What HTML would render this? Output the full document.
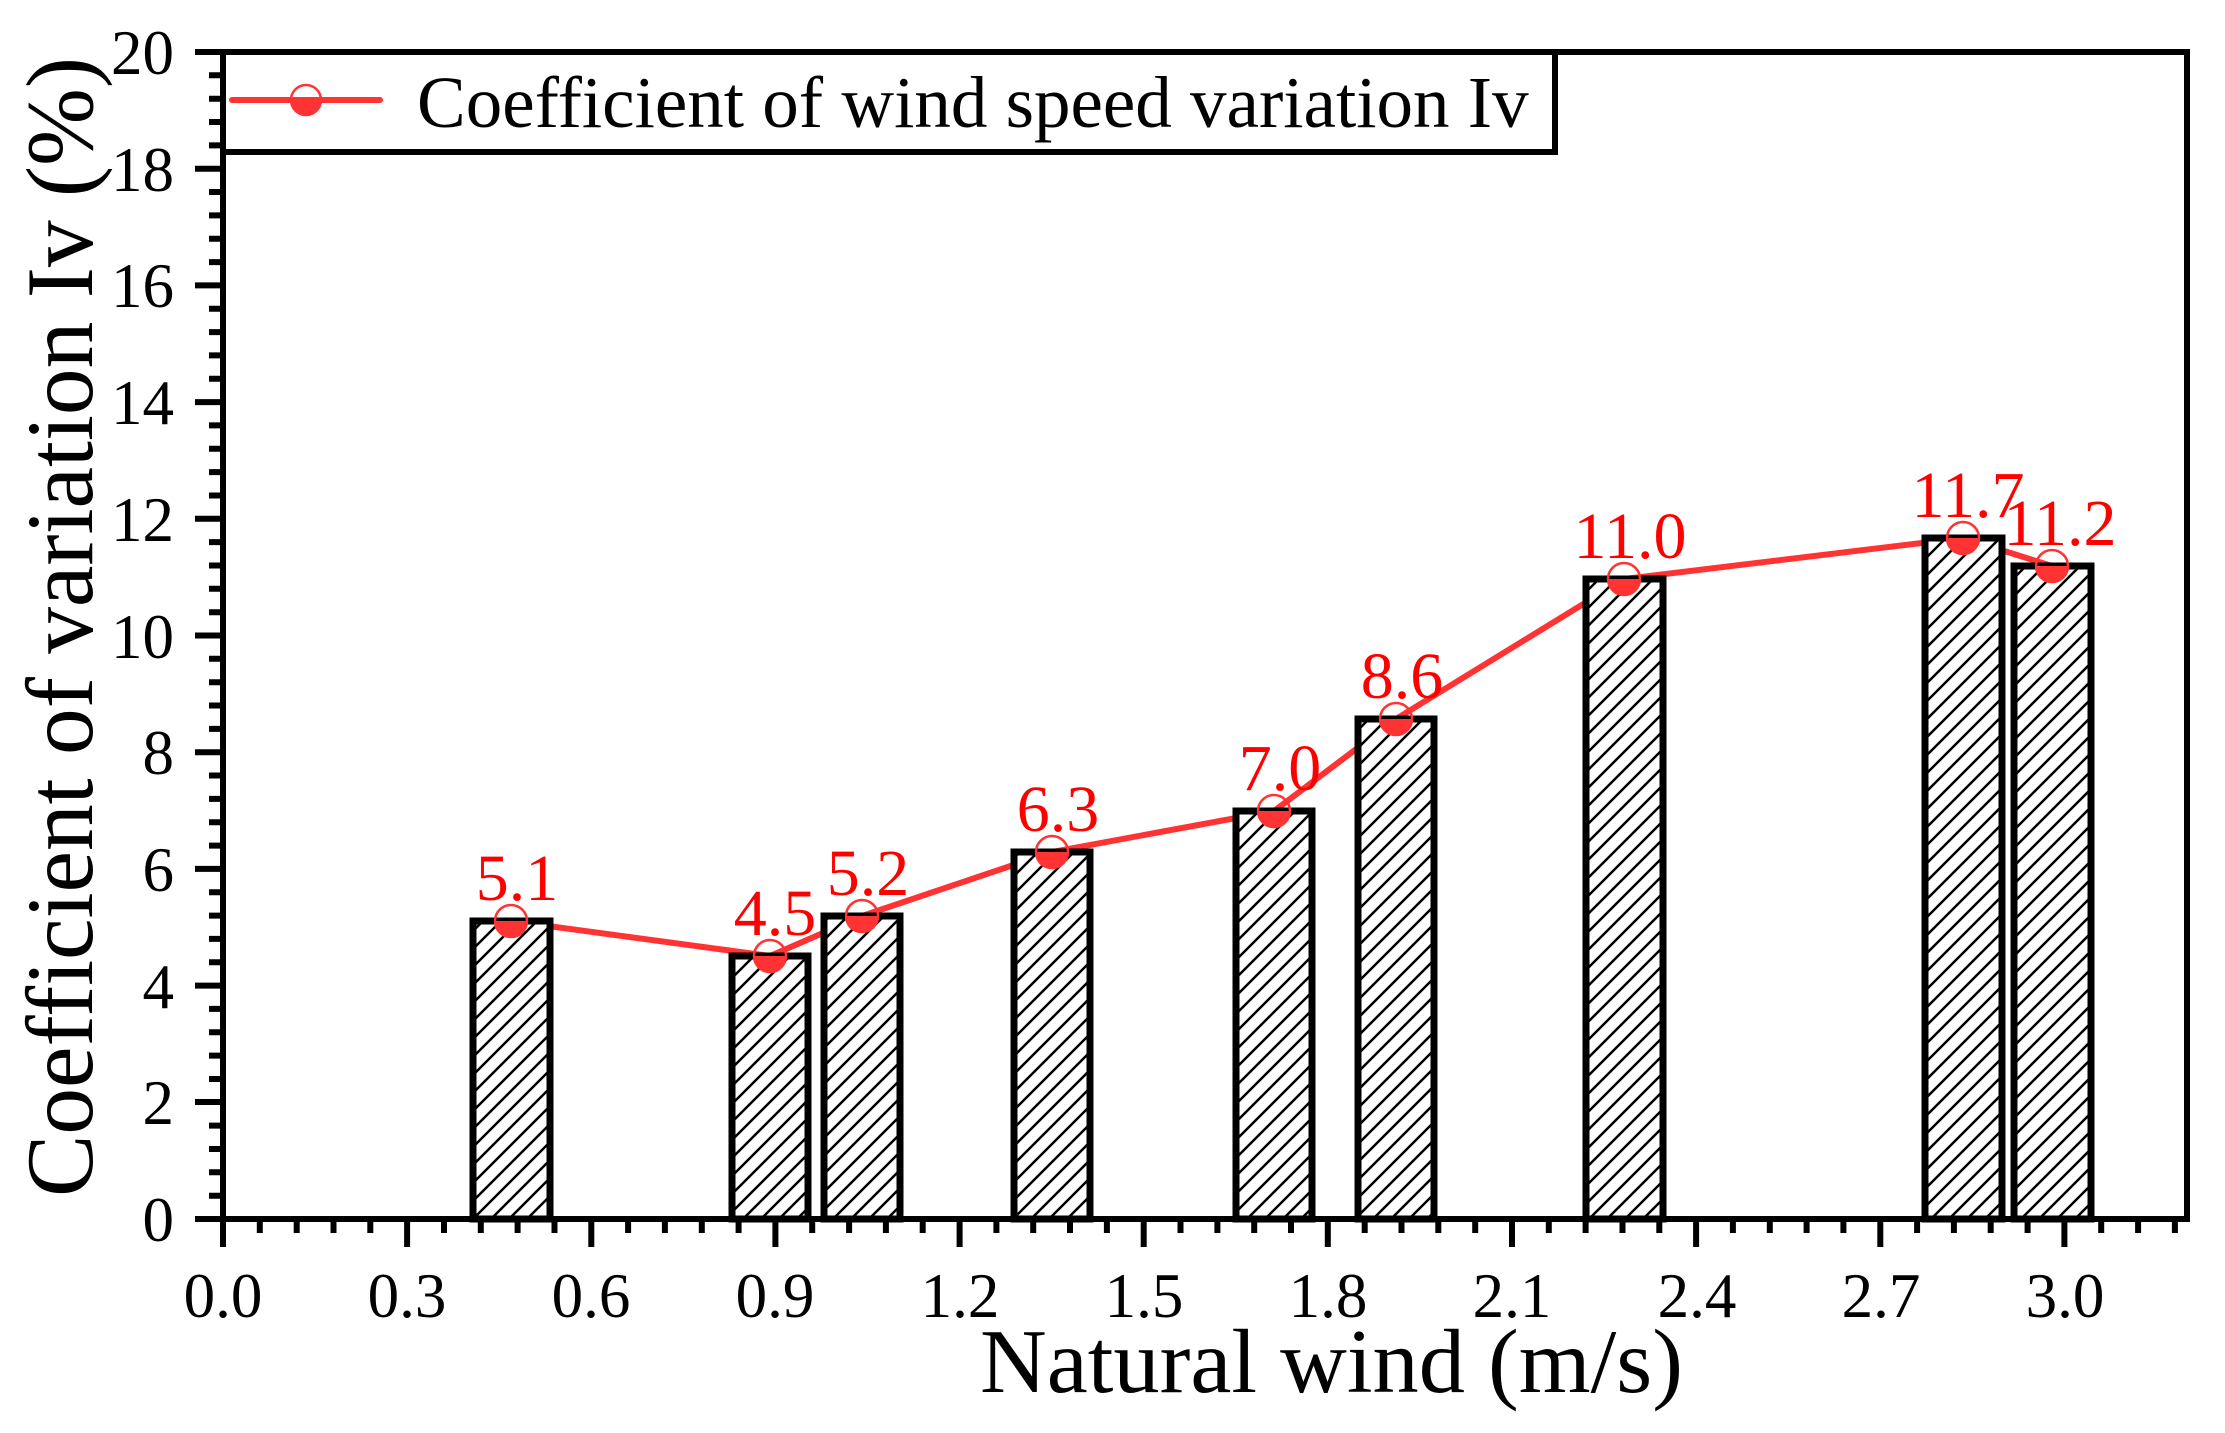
<!DOCTYPE html>
<html><head><meta charset="utf-8"><style>html,body{margin:0;padding:0;background:#fff}svg{display:block}</style></head>
<body>
<svg xmlns="http://www.w3.org/2000/svg" width="2225" height="1433" viewBox="0 0 2225 1433" font-family="'Liberation Serif', serif">
<defs>
<pattern id="h" patternUnits="userSpaceOnUse" width="18" height="18">
<rect width="18" height="18" fill="#fff"/>
<path d="M-4,22 L22,-4 M-4,4 L4,-4 M14,22 L22,14" stroke="#000" stroke-width="2.5"/>
</pattern>
</defs>
<rect width="2225" height="1433" fill="#fff"/>
<polyline fill="none" stroke="#ff3333" stroke-width="6" points="511,921 770,956 862,916 1052,852 1274,811 1396,719 1624,579 1963,538 2052,566"/>
<g stroke="#000" stroke-width="7" fill="url(#h)">
<rect x="473" y="921" width="77" height="298"/>
<rect x="732" y="956" width="76" height="263"/>
<rect x="824" y="916" width="76" height="303"/>
<rect x="1014" y="852" width="76" height="367"/>
<rect x="1236" y="811" width="76" height="408"/>
<rect x="1358" y="719" width="76" height="500"/>
<rect x="1586" y="579" width="77" height="640"/>
<rect x="1925" y="538" width="77" height="681"/>
<rect x="2014" y="566" width="77" height="653"/>
</g>
<g id="markers">
<g transform="translate(511,921)"><path d="M-16,0 A16,16 0 0 0 16,0 Z" fill="#ff3333"/><circle r="16" fill="none" stroke="#ff3333" stroke-width="2.5"/></g>
<g transform="translate(770,956)"><path d="M-16,0 A16,16 0 0 0 16,0 Z" fill="#ff3333"/><circle r="16" fill="none" stroke="#ff3333" stroke-width="2.5"/></g>
<g transform="translate(862,916)"><path d="M-16,0 A16,16 0 0 0 16,0 Z" fill="#ff3333"/><circle r="16" fill="none" stroke="#ff3333" stroke-width="2.5"/></g>
<g transform="translate(1052,852)"><path d="M-16,0 A16,16 0 0 0 16,0 Z" fill="#ff3333"/><circle r="16" fill="none" stroke="#ff3333" stroke-width="2.5"/></g>
<g transform="translate(1274,811)"><path d="M-16,0 A16,16 0 0 0 16,0 Z" fill="#ff3333"/><circle r="16" fill="none" stroke="#ff3333" stroke-width="2.5"/></g>
<g transform="translate(1396,719)"><path d="M-16,0 A16,16 0 0 0 16,0 Z" fill="#ff3333"/><circle r="16" fill="none" stroke="#ff3333" stroke-width="2.5"/></g>
<g transform="translate(1624,579)"><path d="M-16,0 A16,16 0 0 0 16,0 Z" fill="#ff3333"/><circle r="16" fill="none" stroke="#ff3333" stroke-width="2.5"/></g>
<g transform="translate(1963,538)"><path d="M-16,0 A16,16 0 0 0 16,0 Z" fill="#ff3333"/><circle r="16" fill="none" stroke="#ff3333" stroke-width="2.5"/></g>
<g transform="translate(2052,566)"><path d="M-16,0 A16,16 0 0 0 16,0 Z" fill="#ff3333"/><circle r="16" fill="none" stroke="#ff3333" stroke-width="2.5"/></g>
</g>
<g fill="#ff0000" font-size="66" text-anchor="middle">
<text x="517" y="900">5.1</text>
<text x="775" y="935">4.5</text>
<text x="868" y="895">5.2</text>
<text x="1058" y="831">6.3</text>
<text x="1280" y="790">7.0</text>
<text x="1402" y="698">8.6</text>
<text x="1630" y="558">11.0</text>
<text x="1968" y="517">11.7</text>
<text x="2060" y="545">11.2</text>
</g>
<rect x="223" y="52" width="1964" height="1167" fill="none" stroke="#000" stroke-width="6"/>
<rect x="223" y="52" width="1332" height="100" fill="#fff" stroke="#000" stroke-width="6"/>
<line x1="232" y1="100" x2="380" y2="100" stroke="#ff3333" stroke-width="6" stroke-linecap="round"/>
<g transform="translate(306,100)"><path d="M-15,0 A15,15 0 0 0 15,0 Z" fill="#ff3333"/><circle r="15" fill="none" stroke="#ff3333" stroke-width="2.5"/></g>
<text x="417" y="127" font-size="73">Coefficient of wind speed variation Iv</text>
<g stroke="#000" stroke-width="6">
<path d="M223,1219h-28M223,1102h-28M223,985.6h-28M223,868.9h-28M223,752.2h-28M223,635.5h-28M223,518.8h-28M223,402.1h-28M223,285.4h-28M223,168.7h-28M223,52h-28"/>
<path d="M223,1195.7h-14M223,1172.3h-14M223,1149h-14M223,1125.6h-14M223,1079h-14M223,1055.6h-14M223,1032.3h-14M223,1008.9h-14M223,962.3h-14M223,938.9h-14M223,915.6h-14M223,892.2h-14M223,845.6h-14M223,822.2h-14M223,798.9h-14M223,775.5h-14M223,728.9h-14M223,705.5h-14M223,682.2h-14M223,658.8h-14M223,612.2h-14M223,588.8h-14M223,565.5h-14M223,542.1h-14M223,495.5h-14M223,472.1h-14M223,448.8h-14M223,425.4h-14M223,378.8h-14M223,355.4h-14M223,332.1h-14M223,308.7h-14M223,262.1h-14M223,238.7h-14M223,215.4h-14M223,192h-14M223,145.4h-14M223,122h-14M223,98.7h-14M223,75.3h-14"/>
</g>
<g id="xt" stroke="#000" stroke-width="6"></g>
<g font-size="63" text-anchor="end">
<text x="174" y="1241">0</text><text x="174" y="1124">2</text><text x="174" y="1008">4</text><text x="174" y="891">6</text><text x="174" y="774">8</text><text x="174" y="658">10</text><text x="174" y="541">12</text><text x="174" y="424">14</text><text x="174" y="307">16</text><text x="174" y="191">18</text><text x="174" y="74">20</text>
</g>
<g font-size="63" text-anchor="middle">
<text x="223" y="1317">0.0</text><text x="407" y="1317">0.3</text><text x="591" y="1317">0.6</text><text x="775" y="1317">0.9</text><text x="960" y="1317">1.2</text><text x="1144" y="1317">1.5</text><text x="1328" y="1317">1.8</text><text x="1512" y="1317">2.1</text><text x="1697" y="1317">2.4</text><text x="1881" y="1317">2.7</text><text x="2065" y="1317">3.0</text>
</g>
<text x="980" y="1392" font-size="91" textLength="703" lengthAdjust="spacingAndGlyphs">Natural wind (m/s)</text>
<text transform="translate(92,1197) rotate(-90)" font-size="95" textLength="1140" lengthAdjust="spacingAndGlyphs">Coefficient of variation Iv (%)</text>
<script>
var g=document.getElementById('xt');var s='';
for(var k=0;k*0.06<=3.201;k++){var x=223+k*0.06*613.8;var major=(k%5==0);s+='M'+x.toFixed(1)+',1219v'+(major?28:14);}
var p=document.createElementNS('http://www.w3.org/2000/svg','path');p.setAttribute('d',s);g.appendChild(p);
</script>
</svg>
</body></html>
